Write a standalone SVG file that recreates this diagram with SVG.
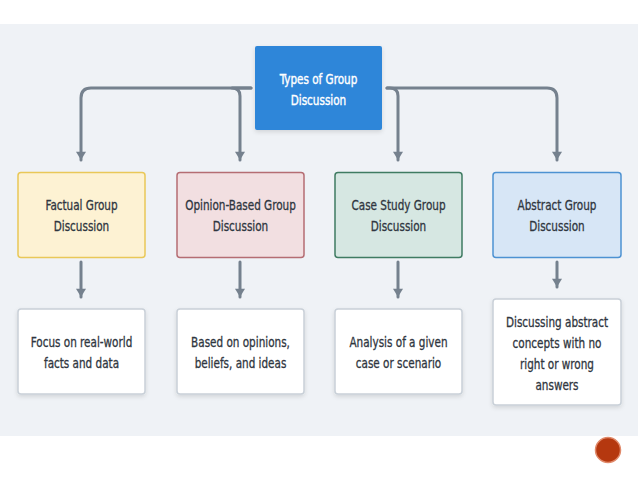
<svg xmlns="http://www.w3.org/2000/svg" width="638" height="478" viewBox="0 0 638 478">
<defs>
<marker id="ah" markerUnits="userSpaceOnUse" markerWidth="12" markerHeight="10" refX="10" refY="6" orient="auto" viewBox="0 0 10 12">
<path d="M0,0 L10,6 L0,12 Z" fill="#75818e"/>
</marker>
<filter id="sh" x="-10%" y="-10%" width="130%" height="140%">
<feDropShadow dx="0" dy="2" stdDeviation="2" flood-color="#000" flood-opacity="0.12"/>
</filter>
</defs>
<style>
text{font-family:"DejaVu Sans Condensed","DejaVu Sans",sans-serif;font-stretch:condensed;font-size:14.5px;fill:#2f3640;stroke:#2f3640;stroke-width:0.3;text-anchor:middle}
.t{fill:#ffffff;stroke:#ffffff;stroke-width:0.4}
.c{fill:none;stroke:#75818e;stroke-width:3;stroke-linecap:round;stroke-linejoin:round}
.n{stroke-width:1.5}
.w{fill:#ffffff;stroke:#c9d0d8;stroke-width:1.5}
</style>
<rect x="0" y="0" width="638" height="478" fill="#ffffff"/>
<rect x="0" y="24" width="638" height="412" fill="#eff2f6"/>
<g id="connectors">
<path class="c" d="M251,88 H91 Q81,88 81,98 V160" marker-end="url(#ah)"/>
<path class="c" d="M251,88 H232 Q240,88 240,96 V160" marker-end="url(#ah)"/>
<path class="c" d="M387,88 H547 Q557,88 557,98 V160" marker-end="url(#ah)"/>
<path class="c" d="M387,88 H390 Q398,88 398,96 V160" marker-end="url(#ah)"/>
<path class="c" d="M81,262 V297" marker-end="url(#ah)"/>
<path class="c" d="M240,262 V297" marker-end="url(#ah)"/>
<path class="c" d="M398,262 V297" marker-end="url(#ah)"/>
<path class="c" d="M557,262 V287" marker-end="url(#ah)"/>
</g>
<g id="root">
<rect x="255" y="46" width="127" height="84" rx="2" fill="#2e86d9" filter="url(#sh)"/>
<g transform="translate(318.5,0) scale(0.8,1)">
<text class="t" x="0" y="84">Types of Group</text>
<text class="t" x="0" y="105">Discussion</text>
</g>
</g>
<g id="factual">
<rect class="n" x="18" y="172.5" width="127" height="85" rx="3" fill="#fdf2d3" stroke="#e9c858"/>
<g transform="translate(81.5,0) scale(0.8,1)">
<text x="0" y="210.5">Factual Group</text>
<text x="0" y="231.5">Discussion</text>
</g>
</g>
<g id="opinion">
<rect class="n" x="177" y="172.5" width="127" height="85" rx="3" fill="#f2dfe1" stroke="#b56d73"/>
<g transform="translate(240.5,0) scale(0.8,1)">
<text x="0" y="210.5">Opinion-Based Group</text>
<text x="0" y="231.5">Discussion</text>
</g>
</g>
<g id="casestudy">
<rect class="n" x="335" y="172.5" width="127" height="85" rx="3" fill="#d6e7e2" stroke="#3f7b62"/>
<g transform="translate(398.5,0) scale(0.8,1)">
<text x="0" y="210.5">Case Study Group</text>
<text x="0" y="231.5">Discussion</text>
</g>
</g>
<g id="abstract">
<rect class="n" x="493" y="172.5" width="128" height="85" rx="3" fill="#d7e6f6" stroke="#4d92d2"/>
<g transform="translate(557,0) scale(0.8,1)">
<text x="0" y="210.5">Abstract Group</text>
<text x="0" y="231.5">Discussion</text>
</g>
</g>
<g id="factual-desc">
<rect class="w" x="18" y="309" width="127" height="85" rx="3" filter="url(#sh)"/>
<g transform="translate(81.5,0) scale(0.8,1)">
<text x="0" y="347.5">Focus on real-world</text>
<text x="0" y="368.5">facts and data</text>
</g>
</g>
<g id="opinion-desc">
<rect class="w" x="177" y="309" width="127" height="85" rx="3" filter="url(#sh)"/>
<g transform="translate(240.5,0) scale(0.8,1)">
<text x="0" y="347.5">Based on opinions,</text>
<text x="0" y="368.5">beliefs, and ideas</text>
</g>
</g>
<g id="casestudy-desc">
<rect class="w" x="335" y="309" width="127" height="85" rx="3" filter="url(#sh)"/>
<g transform="translate(398.5,0) scale(0.8,1)">
<text x="0" y="347.5">Analysis of a given</text>
<text x="0" y="368.5">case or scenario</text>
</g>
</g>
<g id="abstract-desc">
<rect class="w" x="493" y="299" width="128" height="106" rx="3" filter="url(#sh)"/>
<g transform="translate(557,0) scale(0.8,1)">
<text x="0" y="327.5">Discussing abstract</text>
<text x="0" y="348.5">concepts with no</text>
<text x="0" y="369.5">right or wrong</text>
<text x="0" y="390.5">answers</text>
</g>
</g>
<circle cx="608" cy="450" r="12.5" fill="#b5380f" stroke="#e0896a" stroke-width="1.5"/>
</svg>
